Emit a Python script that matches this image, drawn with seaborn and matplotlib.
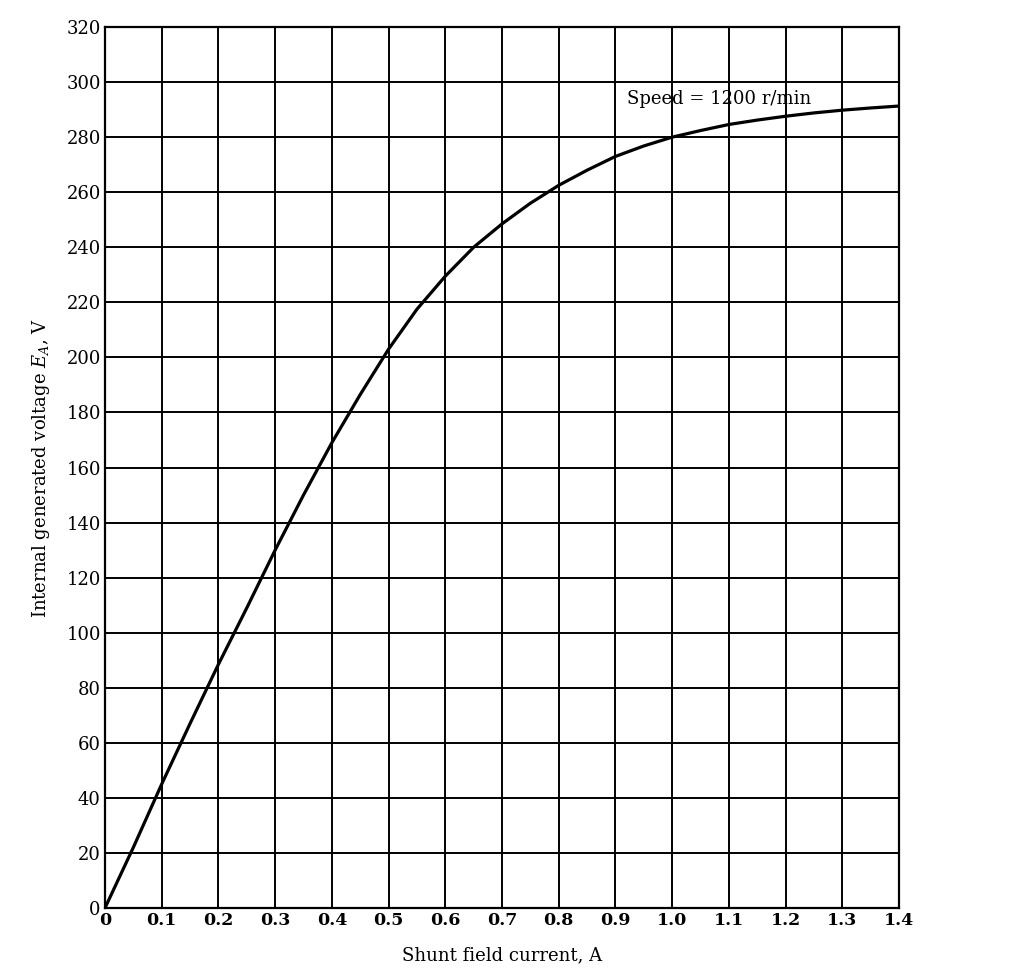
import pandas as pd
import seaborn as sns
import matplotlib.pyplot as plt

# Curva de magnetizacion
corriente_campo = [0.0, 0.05, 0.1, 0.15, 0.2, 0.25, 0.3, 0.35, 0.4, 0.45, 0.5,
                   0.55, 0.6, 0.65, 0.7, 0.75, 0.8, 0.85, 0.9, 0.95, 1.0,
                   1.05, 1.1, 1.15, 1.2, 1.25, 1.3, 1.35, 1.4]
voltaje_ea = [0, 22, 45, 67, 88.5, 109, 130, 150, 169, 186.5, 203,
              217.5, 229.5, 240, 248.5, 256, 262.5, 268, 273, 276.8, 280,
              282.4, 284.6, 286.2, 287.6, 288.8, 289.8, 290.6, 291.3]

ticks_x = [0, 0.1, 0.2, 0.3, 0.4, 0.5, 0.6, 0.7, 0.8, 0.9, 1.0, 1.1, 1.2, 1.3, 1.4]
etiquetas_x = ['0', '0.1', '0.2', '0.3', '0.4', '0.5', '0.6', '0.7', '0.8', '0.9',
               '1.0', '1.1', '1.2', '1.3', '1.4']
ticks_y = list(range(0, 321, 20))

datos = pd.DataFrame({'corriente': corriente_campo, 'voltaje': voltaje_ea})

sns.set_style("white")
plt.rcParams['font.family'] = ['DejaVu Serif']
plt.rcParams['mathtext.fontset'] = 'dejavuserif'
plt.rcParams['text.color'] = 'black'
plt.rcParams['axes.labelcolor'] = 'black'
plt.rcParams['xtick.color'] = 'black'
plt.rcParams['ytick.color'] = 'black'

fig = plt.figure(figsize=(10.24, 9.72), dpi=100)
ax = fig.add_axes([0.1025, 0.0658, 0.7755, 0.9064])

sns.lineplot(data=datos, x='corriente', y='voltaje', color='black',
             linewidth=2.3, ax=ax, zorder=3)

ax.set_xlim(0, 1.4)
ax.set_ylim(0, 320)
ax.set_xticks(ticks_x)
ax.set_xticklabels(etiquetas_x, fontsize=12.5, fontweight='bold')
ax.set_yticks(ticks_y)
ax.set_yticklabels([str(v) for v in ticks_y], fontsize=13)
ax.tick_params(length=0, pad=3)
ax.grid(True, color='black', linewidth=1.4)
for s in ax.spines.values():
    s.set_color('black')
    s.set_linewidth(1.6)

ax.set_xlabel('Shunt field current, A', fontsize=13, labelpad=12)
ax.set_ylabel(r'Internal generated voltage $E_A$, V', fontsize=13, labelpad=10)

ax.text(0.921, 294, 'Speed = 1200 r/min', fontsize=13, ha='left', va='center',
        zorder=4)

plt.savefig('out.png', dpi=100)
plt.close()
